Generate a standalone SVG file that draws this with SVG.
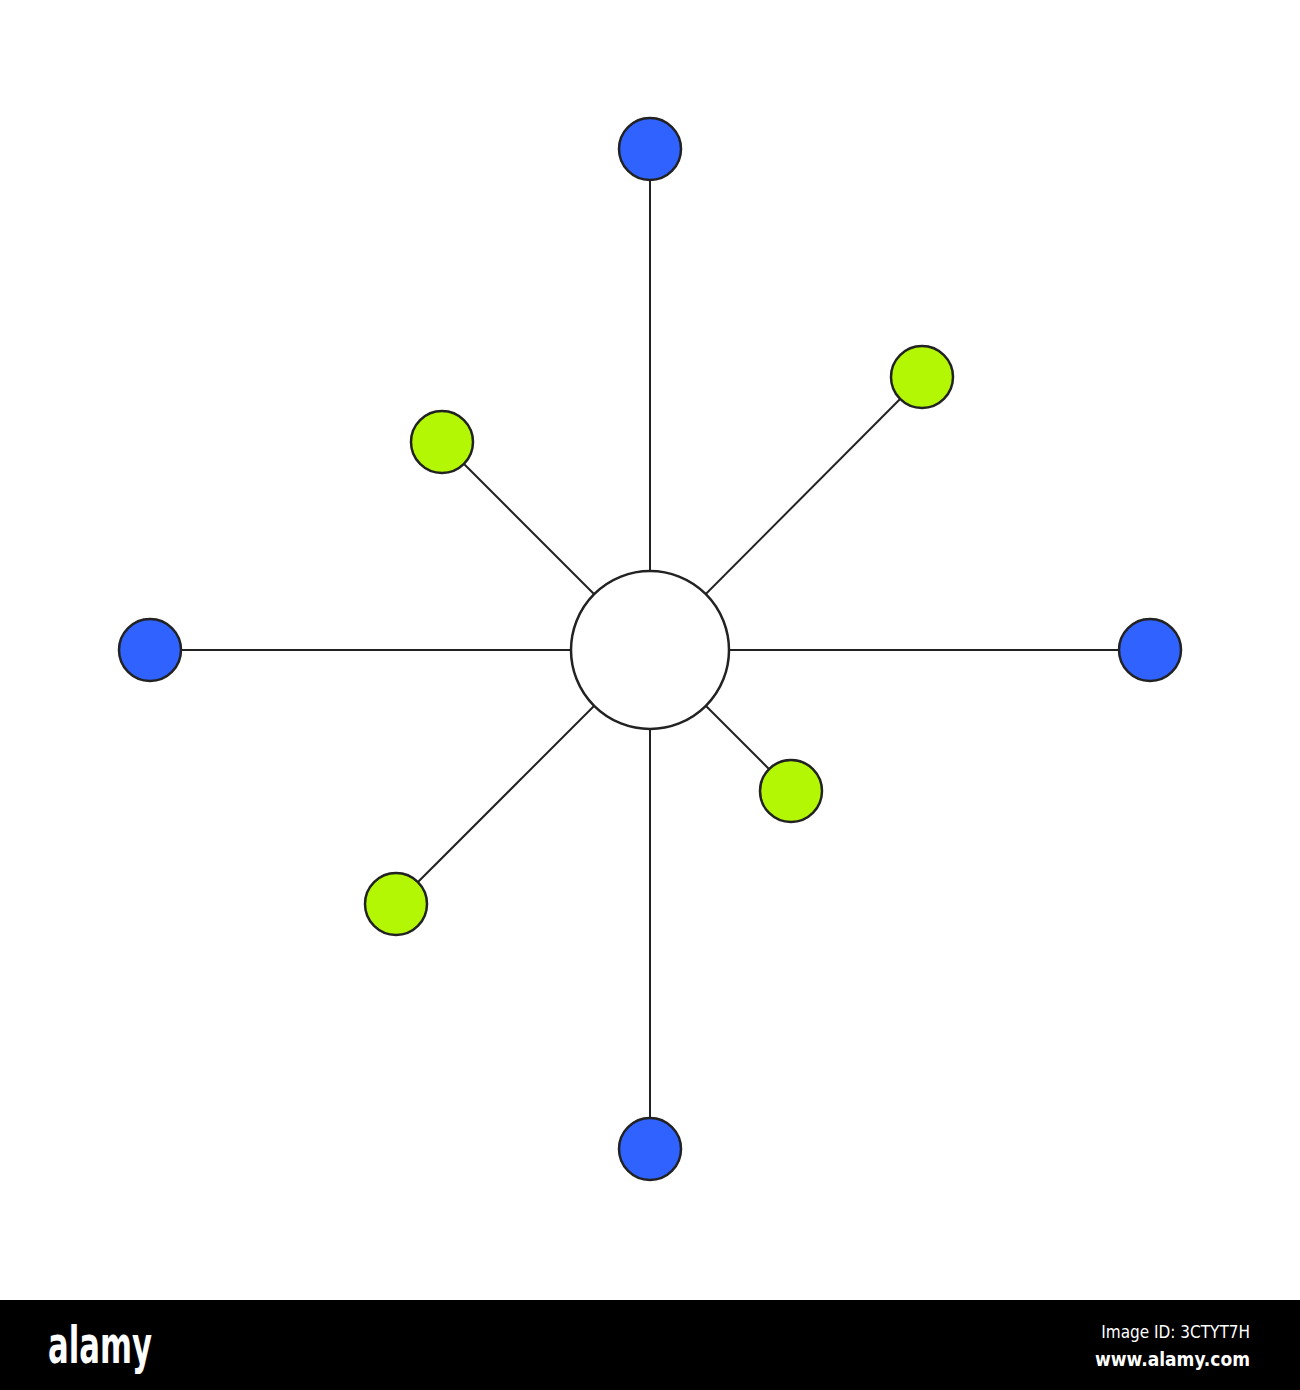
<svg xmlns="http://www.w3.org/2000/svg" width="1300" height="1390" viewBox="0 0 1300 1390">
<style>
.e{stroke:#222;stroke-width:2;fill:none}
.n{stroke:#222;stroke-width:2.5}
.b{fill:#2f62ff}
.g{fill:#b3f705}
.w{fill:#fff;font-family:"DejaVu Sans Condensed","DejaVu Sans",sans-serif}
</style>
<rect width="1300" height="1390" fill="#fff"/>
<g id="connectors">
<line class="e" x1="650" y1="650" x2="650" y2="149"/>
<line class="e" x1="650" y1="650" x2="150" y2="650"/>
<line class="e" x1="650" y1="650" x2="1150" y2="650"/>
<line class="e" x1="650" y1="650" x2="650" y2="1149"/>
<line class="e" x1="650" y1="650" x2="442" y2="442"/>
<line class="e" x1="650" y1="650" x2="922" y2="377"/>
<line class="e" x1="650" y1="650" x2="791" y2="791"/>
<line class="e" x1="650" y1="650" x2="396" y2="904"/>
</g>
<g id="center"><circle class="n" cx="650" cy="650" r="79" fill="#fff"/></g>
<g id="top"><circle class="n b" cx="650" cy="149" r="31"/></g>
<g id="left"><circle class="n b" cx="150" cy="650" r="31"/></g>
<g id="right"><circle class="n b" cx="1150" cy="650" r="31"/></g>
<g id="bottom"><circle class="n b" cx="650" cy="1149" r="31"/></g>
<g id="upper-left"><circle class="n g" cx="442" cy="442" r="31"/></g>
<g id="upper-right"><circle class="n g" cx="922" cy="377" r="31"/></g>
<g id="lower-right"><circle class="n g" cx="791" cy="791" r="31"/></g>
<g id="lower-left"><circle class="n g" cx="396" cy="904" r="31"/></g>
<g id="footer">
<rect x="0" y="1300" width="1300" height="90" fill="#000"/>
<text class="w" x="48" y="1363" font-size="52" font-weight="bold" textLength="104" lengthAdjust="spacingAndGlyphs">alamy</text>
<text class="w" x="1250" y="1338" font-size="17" text-anchor="end">Image ID: 3CTYT7H</text>
<text class="w" x="1250" y="1366" font-size="19" font-weight="bold" text-anchor="end">www.alamy.com</text>
</g>
</svg>
